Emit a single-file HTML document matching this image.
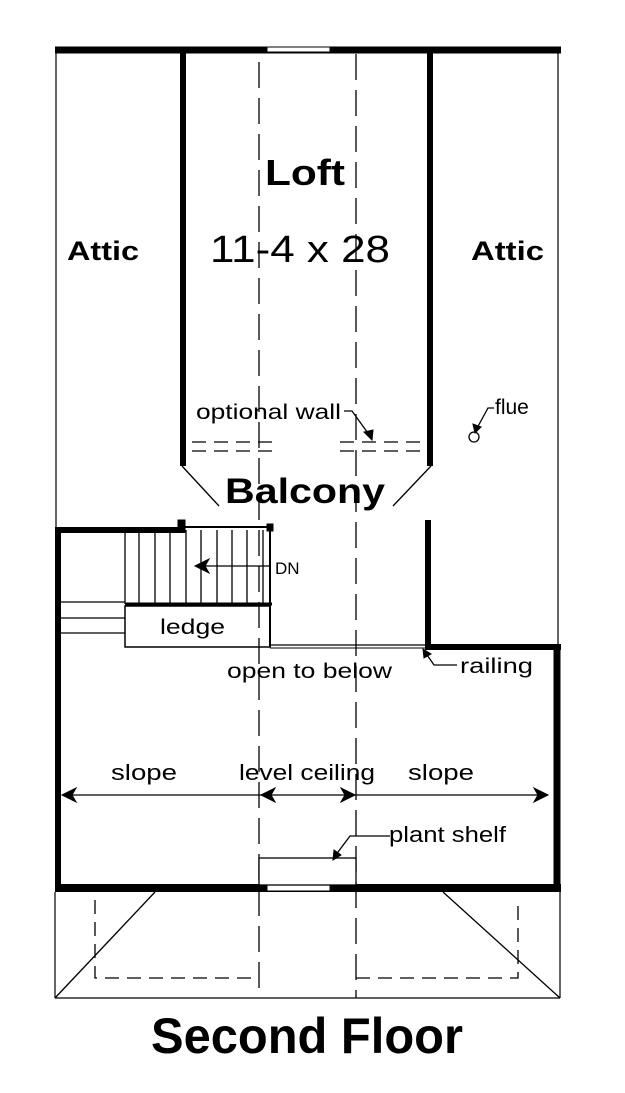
<!DOCTYPE html>
<html><head><meta charset="utf-8"><style>html,body{margin:0;padding:0;background:#fff}svg{display:block}</style></head>
<body>
<svg width="625" height="1093" viewBox="0 0 625 1093" xmlns="http://www.w3.org/2000/svg" font-family="Liberation Sans, Arial, sans-serif">
<g stroke="#000" fill="none">
<!-- outer thin lines -->
<line x1="56" y1="50" x2="56" y2="530" stroke-width="1.2"/>
<line x1="558" y1="50" x2="558" y2="648" stroke-width="1.2"/>
<!-- top wall -->
<line x1="55" y1="50" x2="561" y2="50" stroke-width="7"/>
<rect x="267" y="47" width="63" height="5" fill="#fff" stroke-width="1"/>
<!-- loft walls -->
<line x1="183" y1="50" x2="183" y2="466" stroke-width="6"/>
<line x1="430" y1="50" x2="430" y2="466" stroke-width="6"/>
<line x1="182" y1="466" x2="219" y2="506" stroke-width="1.3"/>
<line x1="431" y1="466" x2="393" y2="506" stroke-width="1.3"/>
<!-- dashed center lines -->
<line x1="259" y1="62" x2="259" y2="998" stroke-width="1.3" stroke-dasharray="26,10"/>
<line x1="356" y1="54" x2="356" y2="998" stroke-width="1.3" stroke-dasharray="26,10"/>
<!-- optional wall dashed -->
<line x1="192" y1="442" x2="275" y2="442" stroke-width="1.3" stroke-dasharray="14,8"/>
<line x1="192" y1="451" x2="275" y2="451" stroke-width="1.3" stroke-dasharray="14,8"/>
<line x1="340" y1="442" x2="427" y2="442" stroke-width="1.3" stroke-dasharray="14,8"/>
<line x1="340" y1="451" x2="427" y2="451" stroke-width="1.3" stroke-dasharray="14,8"/>
<path d="M344 411 H352 L370 436" stroke-width="1.3"/>
<path d="M372 440 L364 432 L373 430 Z" fill="#000"/>
<!-- flue -->
<circle cx="474" cy="437" r="5" stroke-width="1.3"/>
<path d="M494 408 H488 L476 430" stroke-width="1.3"/>
<path d="M475 433 L473 424 L481 427 Z" fill="#000"/>
<!-- stair area walls -->
<line x1="55" y1="530" x2="185" y2="530" stroke-width="6"/>
<rect x="178" y="520" width="7" height="12" fill="#000"/>
<line x1="58" y1="530" x2="58" y2="892" stroke-width="6"/>
<line x1="185" y1="527" x2="272" y2="527" stroke-width="2"/>
<rect x="267" y="524" width="6" height="7" fill="#000"/>
<line x1="270" y1="530" x2="270" y2="647" stroke-width="2"/>
<g stroke-width="1.3">
<line x1="125" y1="530" x2="125" y2="604"/><line x1="139" y1="530" x2="139" y2="604"/>
<line x1="155" y1="530" x2="155" y2="604"/><line x1="170" y1="530" x2="170" y2="604"/>
<line x1="186" y1="530" x2="186" y2="604"/><line x1="201" y1="530" x2="201" y2="604"/>
<line x1="217" y1="530" x2="217" y2="604"/><line x1="232" y1="530" x2="232" y2="604"/>
<line x1="247" y1="530" x2="247" y2="604"/><line x1="263" y1="530" x2="263" y2="604"/>
<line x1="58" y1="602" x2="125" y2="602"/><line x1="58" y1="618" x2="125" y2="618"/><line x1="58" y1="633" x2="125" y2="633"/>
<line x1="205" y1="566" x2="270" y2="566"/>
</g>
<path d="M195 566 L209 559 L205 566 L209 573 Z" fill="#000"/>
<line x1="125" y1="604" x2="272" y2="604" stroke-width="3"/>
<rect x="125" y="606" width="145" height="41" stroke-width="1.5"/>
<!-- open to below railing -->
<line x1="270" y1="645" x2="428" y2="645" stroke-width="1.3"/>
<line x1="270" y1="648" x2="428" y2="648" stroke-width="1"/>
<line x1="428" y1="520" x2="428" y2="650" stroke-width="6"/>
<line x1="425" y1="647" x2="561" y2="647" stroke-width="6"/>
<line x1="557" y1="645" x2="557" y2="892" stroke-width="7"/>
<path d="M457 665 H434 L425 652" stroke-width="1.3"/>
<path d="M423 649 L431 654 L424 658 Z" fill="#000"/>
<!-- bottom wall -->
<line x1="55" y1="888" x2="561" y2="888" stroke-width="8"/>
<rect x="267" y="885" width="63" height="6" fill="#fff" stroke-width="1"/>
<rect x="259" y="858" width="97" height="27" stroke-width="1.3" fill="#fff"/>
<path d="M390 836 H350 L335 856" stroke-width="1.3"/>
<path d="M333 860 L334 850 L341 855 Z" fill="#000"/>
<!-- dimension line -->
<line x1="64" y1="795" x2="546" y2="795" stroke-width="1.2"/>
<path d="M62 795 L76 788 L72 795 L76 802 Z M548 795 L534 788 L538 795 L534 802 Z M261 795 L275 788 L271 795 L275 802 Z M355 795 L341 788 L345 795 L341 802 Z" fill="#000"/>
<!-- roof -->
<line x1="55" y1="892" x2="55" y2="998" stroke-width="1.2"/>
<line x1="560" y1="892" x2="560" y2="998" stroke-width="1.2"/>
<line x1="55" y1="998" x2="560" y2="998" stroke-width="1.3"/>
<line x1="55" y1="998" x2="155" y2="892" stroke-width="1.3"/>
<line x1="560" y1="998" x2="443" y2="892" stroke-width="1.3"/>
<path d="M95 900 V978 H259 M356 978 H518 V900" stroke-width="1.3" stroke-dasharray="14,8"/>
</g>
<g fill="#000">
<text x="265" y="185" font-size="36" font-weight="bold" textLength="80" lengthAdjust="spacingAndGlyphs">Loft</text>
<text x="210" y="262" font-size="38" textLength="180" lengthAdjust="spacingAndGlyphs">11-4 x 28</text>
<text x="67" y="260" font-size="27" font-weight="bold" textLength="72" lengthAdjust="spacingAndGlyphs">Attic</text>
<text x="471" y="260" font-size="27" font-weight="bold" textLength="73" lengthAdjust="spacingAndGlyphs">Attic</text>
<text x="225" y="503" font-size="35" font-weight="bold" textLength="160" lengthAdjust="spacingAndGlyphs">Balcony</text>
<text x="196" y="419" font-size="21" textLength="145" lengthAdjust="spacingAndGlyphs">optional wall</text>
<text x="495" y="414" font-size="21">flue</text>
<text x="275" y="574" font-size="17">DN</text>
<text x="160" y="634" font-size="21" textLength="65" lengthAdjust="spacingAndGlyphs">ledge</text>
<text x="227" y="678" font-size="21" textLength="165" lengthAdjust="spacingAndGlyphs">open to below</text>
<text x="460" y="673" font-size="21" textLength="73" lengthAdjust="spacingAndGlyphs">railing</text>
<text x="111" y="780" font-size="22" textLength="66" lengthAdjust="spacingAndGlyphs">slope</text>
<text x="239" y="780" font-size="22" textLength="136" lengthAdjust="spacingAndGlyphs">level ceiling</text>
<text x="408" y="780" font-size="22" textLength="66" lengthAdjust="spacingAndGlyphs">slope</text>
<text x="389" y="842" font-size="22" textLength="117" lengthAdjust="spacingAndGlyphs">plant shelf</text>
<text x="151" y="1053" font-size="50" font-weight="bold" textLength="312" lengthAdjust="spacingAndGlyphs">Second Floor</text>
</g>
</svg>
</body></html>
